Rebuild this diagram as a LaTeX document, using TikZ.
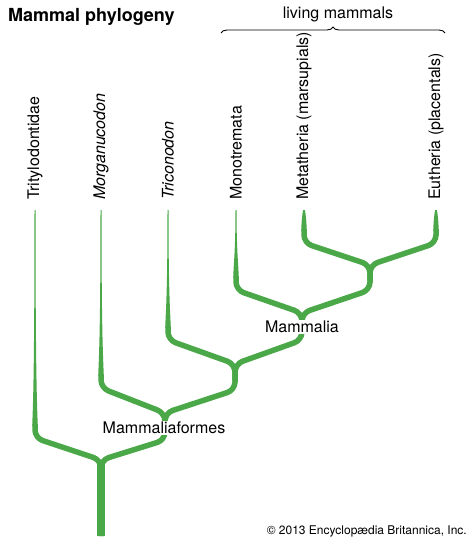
\documentclass[tikz,border=0pt]{standalone}
\usepackage{fontspec}
\setmainfont{TeX Gyre Heros}
\usetikzlibrary{calc, decorations.pathreplacing}
\definecolor{treegreen}{RGB}{74,168,72}
\tikzset{
  twig/.style={draw=treegreen, line width=5.5pt, rounded corners=8pt},
  stem/.style={draw=treegreen, line width=8pt},
  taxon/.style={rotate=90, anchor=west, inner sep=0pt, font=\fontsize{16}{18}\selectfont},
  clade/.style={fill=white, inner sep=1pt, font=\fontsize{16}{18}\selectfont},
}
% tapered tip of a leaf: x, top, bottom
\newcommand{\leaftip}[3]{
  \fill[treegreen] (#1-0.5,#2) -- (#1+0.5,#2)
    .. controls (#1+0.5,#3-25) and (#1+2.7,#3-12) .. (#1+2.7,#3)
    -- (#1-2.7,#3)
    .. controls (#1-2.7,#3-12) and (#1-0.5,#3-25) .. (#1-0.5,#2) -- cycle;
}
\begin{document}
\begin{tikzpicture}[x=1pt, y=-1pt]
  \useasboundingbox (0,0) rectangle (474,541);

  \node[anchor=base west, inner sep=0pt, font=\bfseries\fontsize{18}{20}\selectfont] (title) at (8,21) {Mammal phylogeny};
  \node[anchor=base, inner sep=0pt, font=\fontsize{16}{18}\selectfont] (living) at (338,18) {living mammals};
  \coordinate (bl) at (221,33);
  \coordinate (br) at (445,33);
  \draw[line width=0.9pt, decorate, decoration={brace, amplitude=6pt}] (bl) -- (br);

  % leaf labels
  \node[taxon] (lab1) at (35,200) {Tritylodontidae};
  \node[taxon] (lab2) at (101,200) {\itshape Morganucodon};
  \node[taxon] (lab3) at (168,200) {\itshape Triconodon};
  \node[taxon] (lab4) at (236,200) {Monotremata};
  \node[taxon] (lab5) at (304,200) {Metatheria (marsupials)};
  \node[taxon] (lab6) at (436,200) {Eutheria (placentals)};

  % corners and branch points
  \coordinate (k1) at (35,438);
  \coordinate (k2) at (101,388);
  \coordinate (k3) at (168,340);
  \coordinate (k4) at (236,290);
  \coordinate (k5) at (304,243);
  \coordinate (k6) at (436,243);
  \coordinate (n56) at (370,265);
  \coordinate (m56) at (370,290);
  \coordinate (n4) at (302,313);
  \coordinate (m4) at (302,340);
  \coordinate (n3) at (235,364);
  \coordinate (m3) at (235,390);
  \coordinate (n2) at (165,413);
  \coordinate (m2) at (165,440);
  \coordinate (root) at (101,460);
  \coordinate (base) at (101,536);

  \leaftip{35}{210}{426}
  \leaftip{101}{210}{376}
  \leaftip{168}{210}{328}
  \leaftip{236}{210}{278}
  \leaftip{304}{210}{231}
  \leaftip{436}{210}{231}

  \draw[twig] ($(k5)+(0,-14)$) -- (k5) -- (n56) -- ($(m56)+(0,-9)$);
  \draw[twig] ($(k6)+(0,-14)$) -- (k6) -- (n56) -- ($(m56)+(0,-9)$);
  \draw[twig] ($(k4)+(0,-14)$) -- (k4) -- (n4) -- ($(m4)+(0,-9)$);
  \draw[twig] (n56) -- (m56) -- (n4) -- ($(m4)+(0,-9)$);
  \draw[twig] ($(k3)+(0,-14)$) -- (k3) -- (n3) -- ($(m3)+(0,-9)$);
  \draw[twig] (n4) -- (m4) -- (n3) -- ($(m3)+(0,-9)$);
  \draw[twig] ($(k2)+(0,-14)$) -- (k2) -- (n2) -- ($(m2)+(0,-9)$);
  \draw[twig] (n3) -- (m3) -- (n2) -- ($(m2)+(0,-9)$);
  \draw[twig] ($(k1)+(0,-14)$) -- (k1) -- (root) -- (base);
  \draw[twig] (n2) -- (m2) -- (root) -- (base);
  \draw[stem] (root) -- (base);

  \node[clade] (mammalia) at (302,327) {Mammalia};
  \node[clade] (mammaliaformes) at (164,428) {Mammaliaformes};

  \node[anchor=base east, inner sep=0pt, font=\fontsize{12}{14}\selectfont] (copy) at (467,534) {© 2013 Encyclopædia Britannica, Inc.};
\end{tikzpicture}
\end{document}
